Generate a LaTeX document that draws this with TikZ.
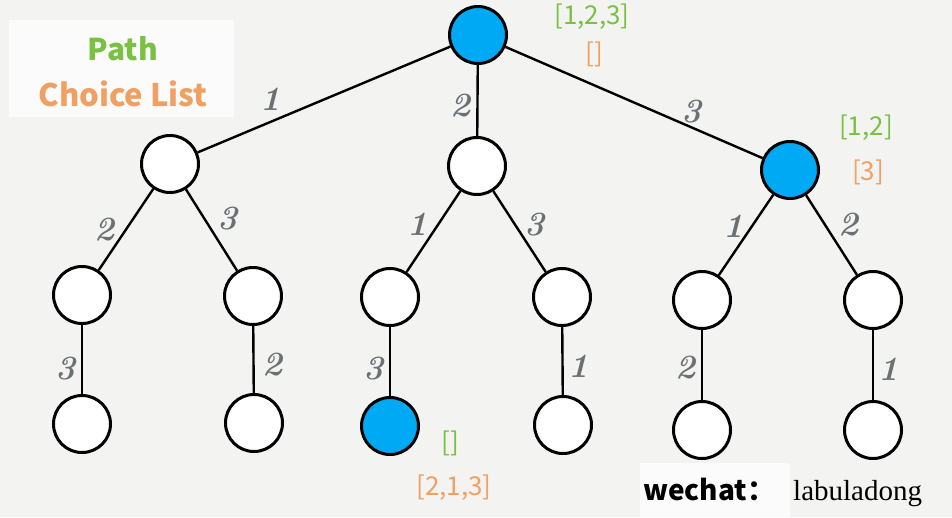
\documentclass[tikz,border=0pt]{standalone}
\usepackage{fontspec}
\usepackage{tikz}
\tikzset{>=latex}
\newfontfamily\cjk{Noto Sans CJK SC}
\newfontfamily\serifname{Liberation Serif}
\definecolor{paper}{HTML}{F3F3F1}
\definecolor{nodeblue}{HTML}{00A9F4}
\definecolor{pathgreen}{HTML}{78C143}
\definecolor{choiceorange}{HTML}{EFA062}
\definecolor{pencil}{HTML}{6B7075}

\begin{document}
\begin{tikzpicture}[x=1pt, y=-1pt,
        state/.style={circle, draw=black, line width=3pt, fill=white, minimum size=57pt, inner sep=0pt},
        chosen/.style={state, fill=nodeblue},
        branch/.style={line width=2.4pt},
        digit/.style={text=pencil, font=\fontsize{34}{34}\selectfont\bfseries\itshape},
        pathtext/.style={text=pathgreen, font=\cjk\fontsize{26}{26}\selectfont},
        choicetext/.style={text=choiceorange, font=\cjk\fontsize{26}{26}\selectfont}]
            \useasboundingbox (0, 0) rectangle (952, 517);
            \fill[paper] (0, 0) rectangle (952, 517);
            \fill[white!70!paper] (9, 20) rectangle (234, 117);
            \fill[white!70!paper] (640, 463) rectangle (790, 517);
            % tree nodes
            \node[chosen] (root) at (478, 35) {};
            \node[state] (a) at (170, 164) {};
            \node[state] (b) at (477, 166) {};
            \node[chosen] (c) at (790, 170) {};
            \node[state] (a1) at (82, 295) {};
            \node[state] (a2) at (253, 296) {};
            \node[state] (b1) at (390, 297) {};
            \node[state] (b2) at (562, 297) {};
            \node[state] (c1) at (702, 300) {};
            \node[state] (c2) at (873, 300) {};
            \node[state] (a1x) at (82, 424) {};
            \node[state] (a2x) at (254, 423) {};
            \node[chosen] (b1x) at (390, 426) {};
            \node[state] (b2x) at (563, 425) {};
            \node[state] (c1x) at (702, 430) {};
            \node[state] (c2x) at (873, 430) {};
            % branches
            \draw[branch] (root) -- (a);
            \draw[branch] (root) -- (b);
            \draw[branch] (root) -- (c);
            \foreach \p/\q in {a/a1, a/a2, b/b1, b/b2, c/c1, c/c2, a1/a1x, a2/a2x, b1/b1x, b2/b2x, c1/c1x, c2/c2x}
                \draw[branch] (\p) -- (\q);
            % choices on the branches
            \node[digit] (d1) at (271, 99) {1};
            \node[digit] (d2) at (461, 106) {2};
            \node[digit] (d3) at (692, 112) {3};
            \node[digit] (da1) at (105, 230) {2};
            \node[digit] (da2) at (228, 219) {3};
            \node[digit] (db1) at (418, 224) {1};
            \node[digit] (db2) at (535, 225) {3};
            \node[digit] (dc1) at (734, 226) {1};
            \node[digit] (dc2) at (849, 225) {2};
            \node[digit] (da1x) at (66, 369) {3};
            \node[digit] (da2x) at (273, 365) {2};
            \node[digit] (db1x) at (374, 369) {3};
            \node[digit] (db2x) at (579, 366) {1};
            \node[digit] (dc1x) at (686, 368) {2};
            \node[digit] (dc2x) at (889, 369) {1};
            % path and choice list
            \node[pathtext] (rootpath) at (592, 17) {[1,2,3]};
            \node[choicetext] (rootlist) at (594, 54) {[]};
            \node[pathtext] (cpath) at (866, 128) {[1,2]};
            \node[choicetext] (clist) at (868, 172) {[3]};
            \node[pathtext] (leafpath) at (450, 443) {[]};
            \node[choicetext] (leaflist) at (454, 488) {[2,1,3]};
            \node[anchor=base, text=pathgreen, font=\cjk\bfseries\fontsize{30}{30}\selectfont] (legpath) at (123, 60) {Path};
            \node[anchor=base, text=choiceorange, font=\cjk\bfseries\fontsize{31}{31}\selectfont] (legchoice) at (123, 106) {Choice List};
            \node[anchor=base west, inner sep=0pt, font=\cjk\bfseries\fontsize{28}{28}\selectfont] (wechat) at (643, 500) {wechat：};
            \node[anchor=base west, inner sep=0pt, font=\serifname\fontsize{29}{29}\selectfont] (author) at (793, 500) {labuladong};
        \end{tikzpicture}
\end{document}
